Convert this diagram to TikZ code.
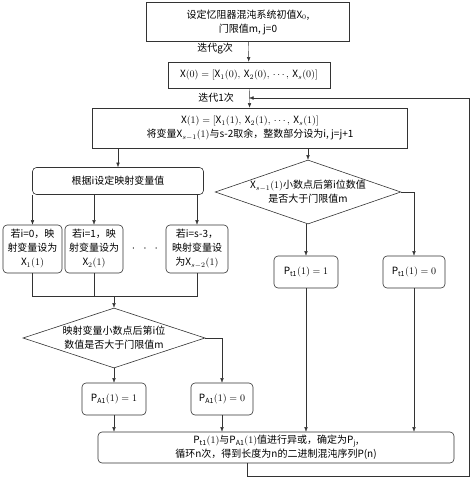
\documentclass[tikz,border=0pt]{standalone}
\usepackage{fontspec}
\setmainfont{Noto Sans CJK SC}
\usetikzlibrary{shapes.geometric,arrows.meta,positioning,calc}

\begin{document}
\begin{tikzpicture}[
  x=1pt, y=-1pt,
  font=\fontsize{10}{14}\selectfont,
  box/.style={draw=black!80, semithick, align=center, inner sep=1pt},
  rbox/.style={box, rounded corners=4pt},
  dec/.style={draw=black!80, semithick, diamond, aspect=3, align=center, inner sep=0pt},
  arr/.style={-{Latex[length=4.5pt,width=3.5pt]}, draw=black!80},
  lnk/.style={draw=black!80}
]
\useasboundingbox (0,0) rectangle (474,482);

% main column
\node[box, minimum width=203pt, minimum height=39pt] (init) at (248,22)
  {设定忆阻器混沌系统初值$\mathrm{X}_0$,\\门限值m, j=0};
\node[box, minimum width=162pt, minimum height=26pt] (x0) at (249,75)
  {$\mathrm{X}(0)=[\mathrm{X}_1(0),\,\mathrm{X}_2(0),\,\cdots,\,\mathrm{X}_s(0)]$};
\node[box, minimum width=315pt, minimum height=40pt] (x1) at (250,128)
  {$\mathrm{X}(1)=[\mathrm{X}_1(1),\,\mathrm{X}_2(1),\,\cdots,\,\mathrm{X}_s(1)]$\\
   将变量$\mathrm{X}_{s-1}(1)$与s-2取余，整数部分设为i, j=j+1};
\draw[arr] (init) -- node[pos=0.35, left=12pt] {迭代g次} (x0);
\draw[arr] (x0) -- node[left=12pt] {迭代1次} (x1);

% left branch
\node[rbox, minimum width=171pt, minimum height=27pt] (map) at (118,181) {根据i设定映射变量值};
\node[rbox, minimum width=59pt, minimum height=48pt] (c1) at (32.5,249) {若i=0，映\\射变量设为\\$\mathrm{X}_1(1)$};
\node[rbox, minimum width=58pt, minimum height=48pt] (c2) at (94,249) {若i=1，映\\射变量设为\\$\mathrm{X}_2(1)$};
\node[rbox, minimum width=62pt, minimum height=48pt] (c3) at (197,249) {若i=s-3，\\映射变量设\\为$\mathrm{X}_{s-2}(1)$};
\node[font=\large] (dots) at (145,249) {$\cdot\ \ \cdot\ \ \cdot$};
\coordinate (jn) at (0,296);
\node[dec, minimum width=182pt, minimum height=60pt] (da) at (114,338) {映射变量小数点后第i位\\数值是否大于门限值m};
\node[rbox, minimum width=64pt, minimum height=32pt] (pa1) at (114,399) {$\mathrm{P}_{\mathrm{A1}}(1)=1$};
\node[rbox, minimum width=62pt, minimum height=32pt] (pa0) at (222,399) {$\mathrm{P}_{\mathrm{A1}}(1)=0$};

\draw[arr] (map.north |- x1.south) -- (map.north);
\foreach \c in {c1,c2,c3} \draw[arr] (map.south -| \c) -- (\c.north);
\draw[lnk] (c1.south) -- (c1.south |- jn) -| (c3.south);
\draw[lnk] (c2.south) -- (c2.south |- jn);
\draw[arr] (da.north |- jn) -- (da.north);
\draw[arr] (da.south) -- (pa1.north);
\draw[arr] (da.east) -| (pa0.north);

% right branch
\node[dec, minimum width=177pt, minimum height=64pt] (dt) at (308,192) {$\mathrm{X}_{s-1}(1)$小数点后第i位数值\\是否大于门限值m};
\node[rbox, minimum width=64pt, minimum height=32pt] (pt1) at (306,272) {$\mathrm{P}_{\mathrm{t1}}(1)=1$};
\node[rbox, minimum width=62pt, minimum height=32pt] (pt0) at (414,272) {$\mathrm{P}_{\mathrm{t1}}(1)=0$};
\draw[arr] (dt.north |- x1.south) -- (dt.north);
\draw[arr] (dt.south -| pt1) -- (pt1.north);
\draw[arr] (dt.east) -| (pt0.north);

% result and feedback
\node[rbox, minimum width=356pt, minimum height=31pt] (fin) at (276,447.5)
  {$\mathrm{P}_{\mathrm{t1}}(1)$与$\mathrm{P}_{\mathrm{A1}}(1)$值进行异或，确定为$\mathrm{P}_{\mathrm{j}}$,\\
   循环n次，得到长度为n的二进制混沌序列P(n)};
\foreach \p in {pa1,pa0,pt1,pt0} \draw[arr] (\p.south) -- (\p.south |- fin.north);
\coordinate (fb) at (469,98);
\draw[arr] ([xshift=-29pt]fin.south) -- ++(0,13) -| (fb) -- (x0.south |- fb);
\end{tikzpicture}
\end{document}
